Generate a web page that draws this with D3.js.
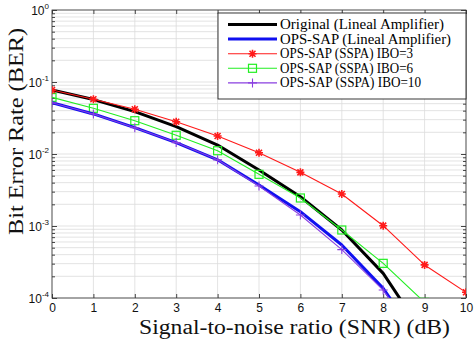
<!DOCTYPE html>
<html><head><meta charset="utf-8">
<script src="https://cdn.jsdelivr.net/npm/d3@7"></script>
<style>body{margin:0;background:#fff}svg{display:block}</style>
</head><body>
<script>
const snr = [0,1,2,3,4,5,6,7,8,9,10];
const berOriginal = [0.0774,0.057,0.0387,0.024,0.0133,0.0060,0.00255,0.00088,0.00022,0.00003];
const berOpsLin   = [0.0516,0.036,0.0232,0.0144,0.0083,0.0037,0.00158,0.000545,0.000136,0.00002];
const berIbo3     = [0.0774,0.0575,0.0418,0.0281,0.0178,0.0104,0.00556,0.00278,0.00101,0.000288,0.00012];
const berIbo6     = [0.0612,0.0431,0.029,0.0182,0.0111,0.00522,0.00245,0.00088,0.000303,0.000087];
const berIbo10    = [0.0516,0.036,0.0232,0.0144,0.0083,0.0036,0.00142,0.00047,0.000129,0.00002];
const xTicks = [0,1,2,3,4,5,6,7,8,9,10];
const yTickExps = [0,-1,-2,-3,-4];
const seriesNames = ["Original (Lineal Amplifier)","OPS-SAP (Lineal Amplifier)","OPS-SAP (SSPA) IBO=3","OPS-SAP (SSPA) IBO=6","OPS-SAP (SSPA) IBO=10"];

const series = [
  {name:seriesNames[0], vals:berOriginal, color:"#000000", w:3, marker:null},
  {name:seriesNames[1], vals:berOpsLin, color:"#1010f0", w:3, marker:null},
  {name:seriesNames[2], vals:berIbo3, color:"#ff1a1a", w:1.1, marker:"star"},
  {name:seriesNames[3], vals:berIbo6, color:"#22ee22", w:1.1, marker:"square"},
  {name:seriesNames[4], vals:berIbo10, color:"#8a3fe0", w:1.1, marker:"plus"}
];

const W=474,H=339;
const m={l:52,r:8,t:10,b:41};
const svg=d3.select("body").append("svg").attr("width",W).attr("height",H);
const x=d3.scaleLinear().domain([0,10]).range([m.l,W-m.r]);
const y=d3.scaleLog().domain([1e-4,1]).range([H-m.b,m.t]);

svg.append("defs").append("clipPath").attr("id","clip")
  .append("rect").attr("x",m.l).attr("y",m.t).attr("width",W-m.l-m.r).attr("height",H-m.t-m.b);

const g=svg.append("g");
const minor=[];
for(let e=-4;e<0;e++) for(let k=1;k<10;k++) minor.push(k*Math.pow(10,e));
minor.push(1);
g.selectAll("line.hy").data(minor).enter().append("line")
  .attr("x1",m.l).attr("x2",W-m.r).attr("y1",d=>y(d)).attr("y2",d=>y(d))
  .attr("stroke","#dcdcdc").attr("stroke-width",0.8);
g.selectAll("line.vx").data(xTicks).enter().append("line")
  .attr("x1",d=>x(d)).attr("x2",d=>x(d)).attr("y1",m.t).attr("y2",H-m.b)
  .attr("stroke","#dcdcdc").attr("stroke-width",0.8);

const tickFont="Liberation Sans, Arial, sans-serif";
const xAxB=d3.axisBottom(x).tickValues(xTicks).tickSize(-4).tickFormat(d=>d);
const xg=svg.append("g").attr("transform",`translate(0,${H-m.b})`).call(xAxB);
xg.select(".domain").remove();
xg.selectAll("text").attr("dy","0.9em").attr("y",3).style("font-family",tickFont).style("font-size","12px").attr("fill","#111");
xg.selectAll("line").attr("stroke","#444");
const xAxT=d3.axisTop(x).tickValues(xTicks).tickSize(-4).tickFormat("");
const xt=svg.append("g").attr("transform",`translate(0,${m.t})`).call(xAxT);
xt.select(".domain").remove(); xt.selectAll("line").attr("stroke","#444");

const yAxL=d3.axisLeft(y).tickValues(minor).tickSize(-3).tickFormat("");
const yl=svg.append("g").attr("transform",`translate(${m.l},0)`).call(yAxL);
yl.select(".domain").remove(); yl.selectAll("line").attr("stroke","#444").attr("x2",d=>{const l=Math.log10(d);return Math.abs(l-Math.round(l))<1e-9?5:3;});
const yAxR=d3.axisRight(y).tickValues(minor).tickSize(-3).tickFormat("");
const yr=svg.append("g").attr("transform",`translate(${W-m.r},0)`).call(yAxR);
yr.select(".domain").remove(); yr.selectAll("line").attr("stroke","#444").attr("x2",d=>{const l=Math.log10(d);return Math.abs(l-Math.round(l))<1e-9?-5:-3;});

yTickExps.forEach(e=>{
  const t=svg.append("text").attr("x",m.l-3).attr("y",y(Math.pow(10,e))+5)
    .attr("text-anchor","end").style("font-family",tickFont).attr("fill","#111");
  t.append("tspan").style("font-size","12px").text("10");
  t.append("tspan").style("font-size","8px").attr("dy","-6").text(e===0?"0":"-"+(-e));
});

svg.append("rect").attr("x",m.l).attr("y",m.t).attr("width",W-m.l-m.r).attr("height",H-m.t-m.b)
  .attr("fill","none").attr("stroke","#333").attr("stroke-width",0.8);

const pg=svg.append("g").attr("clip-path","url(#clip)");
const line=d3.line().x((d,i)=>x(snr[i])).y(d=>y(d));
function drawMarker(sel,type,color,cx,cy){
  if(type==="star"){
    const r=4;
    const p=`M${cx-r},${cy}L${cx+r},${cy}M${cx},${cy-r}L${cx},${cy+r}M${cx-r*0.75},${cy-r*0.75}L${cx+r*0.75},${cy+r*0.75}M${cx-r*0.75},${cy+r*0.75}L${cx+r*0.75},${cy-r*0.75}`;
    sel.append("path").attr("d",p).attr("stroke",color).attr("stroke-width",1.6).attr("fill","none");
  } else if(type==="square"){
    sel.append("rect").attr("x",cx-4).attr("y",cy-4).attr("width",8).attr("height",8)
      .attr("fill","none").attr("stroke",color).attr("stroke-width",1.2);
  } else if(type==="plus"){
    const r=4.5;
    sel.append("path").attr("d",`M${cx-r},${cy}L${cx+r},${cy}M${cx},${cy-r}L${cx},${cy+r}`)
      .attr("stroke",color).attr("stroke-width",1.1);
  }
}
const order=[0,3,2,1,4];
order.forEach(i=>{
  const s=series[i];
  pg.append("path").datum(s.vals).attr("d",line).attr("fill","none")
    .attr("stroke",s.color).attr("stroke-width",s.w).attr("stroke-linejoin","round");
  if(s.marker) s.vals.forEach((v,j)=>drawMarker(pg,s.marker,s.color,x(snr[j]),y(v)));
});

const lg=svg.append("g");
const lx=218, ly=13, lw=248, lh=86;
const legendLens=[164,171,133,133,141];
lg.append("rect").attr("x",lx).attr("y",ly).attr("width",lw).attr("height",lh)
  .attr("fill","#fff").attr("stroke","#222").attr("stroke-width",0.9);
series.forEach((s,i)=>{
  const yy=ly+11.5+i*14.6;
  lg.append("line").attr("x1",lx+10).attr("x2",lx+59).attr("y1",yy).attr("y2",yy)
    .attr("stroke",s.color).attr("stroke-width",s.w);
  if(s.marker) drawMarker(lg,s.marker,s.color,lx+34.5,yy);
  lg.append("text").attr("x",lx+62).attr("y",yy+4.5).text(s.name)
    .attr("textLength",legendLens[i]).attr("lengthAdjust","spacingAndGlyphs")
    .style("font-family","Liberation Serif, 'DejaVu Serif', serif").style("font-size","14.5px").attr("fill","#000");
});

svg.append("text").attr("x",(139+450)/2).attr("y",334).attr("text-anchor","middle")
  .attr("textLength",311).attr("lengthAdjust","spacingAndGlyphs")
  .style("font-family","Liberation Serif, serif").style("font-size","20px").attr("fill","#111")
  .text("Signal-to-noise ratio (SNR) (dB)");
svg.append("text").attr("transform",`translate(23,${(28+235)/2}) rotate(-90)`).attr("text-anchor","middle")
  .attr("textLength",207).attr("lengthAdjust","spacingAndGlyphs")
  .style("font-family","Liberation Serif, serif").style("font-size","22px").attr("fill","#111")
  .text("Bit Error Rate (BER)");
</script>
</body></html>
